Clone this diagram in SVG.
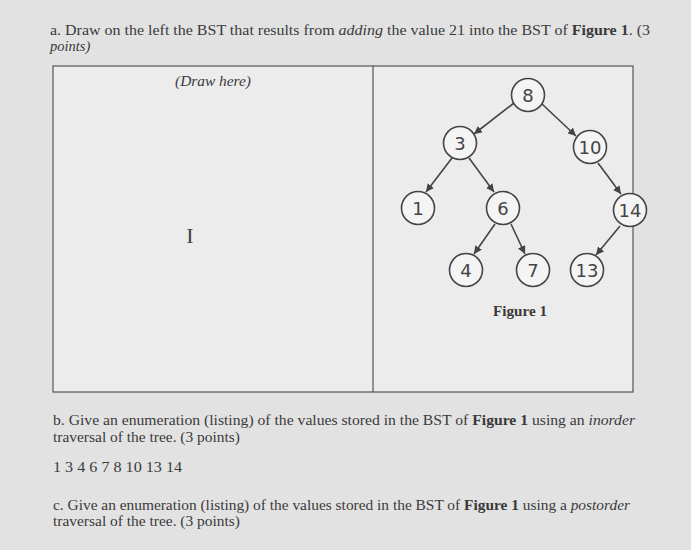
<svg xmlns="http://www.w3.org/2000/svg" width="691" height="550" viewBox="0 0 691 550">
<style>
.t{font-family:"Liberation Serif",serif;font-size:14.5px;fill:#3a3a3a}
.n circle{fill:#f4f4f4;stroke:#444;stroke-width:1.6}
.n text{font-family:"DejaVu Sans",sans-serif;font-size:18px;fill:#444;text-anchor:middle;dominant-baseline:central}
.e line{stroke:#444;stroke-width:1.6;marker-end:url(#a)}
</style>
<defs><marker id="a" viewBox="0 0 10 10" refX="10" refY="5" markerWidth="8" markerHeight="8" orient="auto" markerUnits="userSpaceOnUse"><path d="M0,0L10,5L0,10z" fill="#444"/></marker></defs>
<rect width="691" height="550" fill="#e2e2e2"/>
<text class="t" x="50" y="35" textLength="600" lengthAdjust="spacingAndGlyphs">a. Draw on the left the BST that results from <tspan font-style="italic">adding</tspan> the value 21 into the BST of <tspan font-weight="bold">Figure 1</tspan>. (3</text>
<text class="t" x="50" y="51" font-style="italic">points)</text>
<rect x="53" y="66" width="580" height="326" fill="#ececec" stroke="#555" stroke-width="1.2"/>
<line x1="373" y1="66" x2="373" y2="392" stroke="#555" stroke-width="1.2"/>
<text class="t" x="175" y="86" font-style="italic" textLength="76" lengthAdjust="spacingAndGlyphs">(Draw here)</text>
<text x="190" y="243" text-anchor="middle" font-family="Liberation Serif,serif" font-size="22" fill="#444">I</text>
<g class="e" id="connectors">
<line x1="514" y1="103" x2="474" y2="134"/>
<line x1="542" y1="104" x2="576" y2="136"/>
<line x1="452" y1="158" x2="426" y2="192"/>
<line x1="469" y1="158" x2="494" y2="192"/>
<line x1="495" y1="224" x2="474" y2="254"/>
<line x1="511" y1="224" x2="525" y2="254"/>
<line x1="598" y1="163" x2="621" y2="194"/>
<line x1="620" y1="226" x2="596" y2="255"/>
</g>
<g class="n" id="n8"><circle cx="528" cy="95" r="16.5"/><text x="528" y="95">8</text></g>
<g class="n" id="n3"><circle cx="460" cy="143" r="16.5"/><text x="460" y="143">3</text></g>
<g class="n" id="n10"><circle cx="590" cy="147" r="16.5"/><text x="590" y="147">10</text></g>
<g class="n" id="n1"><circle cx="418" cy="208" r="16.5"/><text x="418" y="208">1</text></g>
<g class="n" id="n6"><circle cx="503" cy="208" r="16.5"/><text x="503" y="208">6</text></g>
<g class="n" id="n14"><circle cx="630" cy="210" r="16.5"/><text x="630" y="210">14</text></g>
<g class="n" id="n4"><circle cx="466" cy="270" r="16.5"/><text x="466" y="270">4</text></g>
<g class="n" id="n7"><circle cx="533" cy="270" r="16.5"/><text x="533" y="270">7</text></g>
<g class="n" id="n13"><circle cx="587" cy="270" r="16.5"/><text x="587" y="270">13</text></g>
<text class="t" x="493" y="316" font-weight="bold" textLength="54" lengthAdjust="spacingAndGlyphs">Figure 1</text>
<text class="t" x="53" y="425" textLength="582" lengthAdjust="spacingAndGlyphs">b. Give an enumeration (listing) of the values stored in the BST of <tspan font-weight="bold">Figure 1</tspan> using an <tspan font-style="italic">inorder</tspan></text>
<text class="t" x="53" y="442" textLength="187" lengthAdjust="spacingAndGlyphs">traversal of the tree. (3 points)</text>
<text class="t" x="53" y="472" textLength="129" lengthAdjust="spacingAndGlyphs">1 3 4 6 7 8 10 13 14</text>
<text class="t" x="53" y="510" textLength="577" lengthAdjust="spacingAndGlyphs">c. Give an enumeration (listing) of the values stored in the BST of <tspan font-weight="bold">Figure 1</tspan> using a <tspan font-style="italic">postorder</tspan></text>
<text class="t" x="53" y="526" textLength="187" lengthAdjust="spacingAndGlyphs">traversal of the tree. (3 points)</text>
</svg>
